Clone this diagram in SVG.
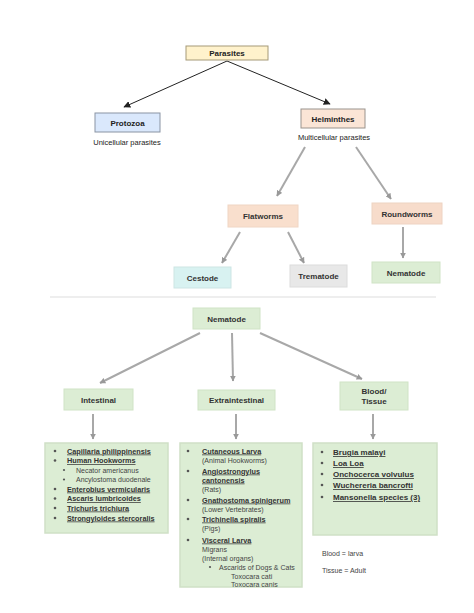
<svg xmlns="http://www.w3.org/2000/svg" width="474" height="613" viewBox="0 0 474 613">
<defs>
<style>
text{font-family:"Liberation Sans",Arial,sans-serif;fill:#222}
.t{font-size:8px;font-weight:bold;text-anchor:middle}
.s{font-size:7.5px;text-anchor:middle}
.b{font-size:8px;font-weight:bold;text-anchor:middle;fill:#333}
.l{font-size:7px;fill:#444}
.lb{font-size:7.3px;font-weight:bold;text-decoration:underline;fill:#333}
.lb2{font-size:8px;font-weight:bold;text-decoration:underline;fill:#333}
.k{stroke:#222;stroke-width:1;fill:none}
.g{stroke:#a8a8a8;stroke-width:2;fill:none}
.lst{fill:#dcedd4;stroke:#cfe0c6;stroke-width:1.5}
.bul{fill:#555}
</style>
<marker id="ab" viewBox="0 0 10 10" refX="9" refY="5" markerWidth="7" markerHeight="7" orient="auto-start-reverse" markerUnits="userSpaceOnUse"><path d="M0,0 L10,5 L0,10 z" fill="#222"/></marker>
<marker id="ag" viewBox="0 0 10 10" refX="9" refY="5" markerWidth="6" markerHeight="6" orient="auto-start-reverse" markerUnits="userSpaceOnUse"><path d="M0,0 L10,5 L0,10 z" fill="#999"/></marker>
</defs>
<rect width="474" height="613" fill="#fff"/>
<g id="connectors">
<line class="k" x1="227" y1="61" x2="124" y2="107" marker-end="url(#ab)"/>
<line class="k" x1="227" y1="61" x2="330" y2="104" marker-end="url(#ab)"/>
<line class="g" x1="305" y1="147" x2="277" y2="196" marker-end="url(#ag)"/>
<line class="g" x1="356" y1="147" x2="391" y2="199" marker-end="url(#ag)"/>
<line class="g" x1="240" y1="232" x2="222" y2="263" marker-end="url(#ag)"/>
<line class="g" x1="288" y1="232" x2="304" y2="263" marker-end="url(#ag)"/>
<line class="g" x1="403" y1="227" x2="403" y2="258" marker-end="url(#ag)"/>
<line class="g" x1="200" y1="333" x2="100" y2="383" marker-end="url(#ag)"/>
<line class="g" x1="232" y1="333" x2="233" y2="381" marker-end="url(#ag)"/>
<line class="g" x1="260" y1="333" x2="362" y2="379" marker-end="url(#ag)"/>
<line class="g" x1="93" y1="414" x2="93" y2="439" marker-end="url(#ag)"/>
<line class="g" x1="236" y1="414" x2="236" y2="439" marker-end="url(#ag)"/>
<line class="g" x1="373" y1="414" x2="373" y2="439" marker-end="url(#ag)"/>
</g>
<line x1="50" y1="297" x2="436" y2="297" stroke="#eeeeee" stroke-width="2"/>
<g id="parasites">
<rect x="186" y="46" width="82" height="14" fill="#fff2cc" stroke="#a59a78"/>
<text class="t" x="227" y="56">Parasites</text>
</g>
<g id="protozoa">
<rect x="95" y="113" width="65" height="19" fill="#dae8fc" stroke="#8a94a3"/>
<text class="t" x="127.5" y="125.5">Protozoa</text>
<text class="s" x="127" y="145">Unicellular parasites</text>
</g>
<g id="helminthes">
<rect x="301" y="109" width="64" height="19" fill="#fbe5d6" stroke="#9a938d"/>
<text class="t" x="333" y="121.5">Helminthes</text>
<text class="s" x="334" y="140">Multicellular parasites</text>
</g>
<g id="flatworms">
<rect x="228" y="205" width="70" height="22" fill="#f9dfcd" stroke="#f0d6c4"/>
<text class="b" x="263" y="219">Flatworms</text>
</g>
<g id="roundworms">
<rect x="372" y="203" width="70" height="21" fill="#f7dccb" stroke="#eed3c2"/>
<text class="b" x="407" y="216.5">Roundworms</text>
</g>
<g id="cestode">
<rect x="174" y="267" width="57" height="21" fill="#d8f2f1" stroke="#cde5e4"/>
<text class="b" x="202.5" y="280.5">Cestode</text>
</g>
<g id="trematode">
<rect x="290" y="265" width="57" height="22" fill="#e8e8e8" stroke="#dcdcdc"/>
<text class="b" x="318.5" y="279">Trematode</text>
</g>
<g id="nematode-top">
<rect x="372" y="262" width="68" height="21" fill="#dcedd4" stroke="#d0e3c6"/>
<text class="b" x="406" y="275.5">Nematode</text>
</g>
<g id="nematode">
<rect x="193" y="308" width="67" height="21" fill="#dcedd4" stroke="#d0e3c6"/>
<text class="b" x="226.5" y="321.5">Nematode</text>
</g>
<g id="intestinal">
<rect x="64" y="389" width="69" height="21" fill="#dcedd4" stroke="#d0e3c6"/>
<text class="b" x="98.5" y="402.5">Intestinal</text>
</g>
<g id="extraintestinal">
<rect x="198" y="390" width="77" height="20" fill="#dcedd4" stroke="#d0e3c6"/>
<text class="b" x="236.5" y="403">Extraintestinal</text>
</g>
<g id="bloodtissue">
<rect x="340" y="382" width="68" height="28" fill="#dcedd4" stroke="#d0e3c6"/>
<text class="b" x="374" y="394">Blood/</text>
<text class="b" x="374" y="404">Tissue</text>
</g>
<g id="intestinal-list">
<rect class="lst" x="45" y="443" width="123" height="90"/>
<g class="bul"><circle cx="55" cy="451" r="1.3"/><circle cx="55" cy="460.5" r="1.3"/><circle cx="64" cy="470" r="1.1"/><circle cx="64" cy="479.5" r="1.1"/><circle cx="55" cy="489" r="1.3"/><circle cx="55" cy="498.5" r="1.3"/><circle cx="55" cy="508" r="1.3"/><circle cx="55" cy="518" r="1.3"/></g>
<text class="lb" x="67" y="453.5">Capillaria philippinensis</text>
<text class="lb" x="67" y="463">Human Hookworms</text>
<text class="l" x="76" y="472.5">Necator americanus</text>
<text class="l" x="76" y="482">Ancylostoma duodenale</text>
<text class="lb" x="67" y="491.5">Enterobius vermicularis</text>
<text class="lb" x="67" y="501">Ascaris lumbricoides</text>
<text class="lb" x="67" y="510.5">Trichuris trichiura</text>
<text class="lb" x="67" y="520.5">Strongyloides stercoralis</text>
</g>
<g id="extraintestinal-list">
<rect class="lst" x="180" y="443" width="122" height="144"/>
<g class="bul"><circle cx="188" cy="451" r="1.3"/><circle cx="188" cy="471" r="1.3"/><circle cx="188" cy="500" r="1.3"/><circle cx="188" cy="519" r="1.3"/><circle cx="188" cy="540" r="1.3"/><circle cx="210" cy="567" r="1.1"/></g>
<text class="lb" x="202" y="453.5">Cutaneous Larva</text>
<text class="l" x="202" y="462.5">(Animal Hookworms)</text>
<text class="lb" x="202" y="473.5">Angiostrongylus</text>
<text class="lb" x="202" y="482.5">cantonensis</text>
<text class="l" x="202" y="491.5">(Rats)</text>
<text class="lb" x="202" y="502.5">Gnathostoma spinigerum</text>
<text class="l" x="202" y="511.5">(Lower Vertebrates)</text>
<text class="lb" x="202" y="521.5">Trichinella spiralis</text>
<text class="l" x="202" y="530.5">(Pigs)</text>
<text class="lb" x="202" y="542.5">Visceral Larva</text>
<text class="l" x="202" y="551.5">Migrans</text>
<text class="l" x="202" y="560.5">(Internal organs)</text>
<text class="l" x="219" y="569.5">Ascarids of Dogs &amp; Cats</text>
<text class="l" x="231" y="578.5">Toxocara cati</text>
<text class="l" x="231" y="587">Toxocara canis</text>
</g>
<g id="blood-list">
<rect class="lst" x="313" y="443" width="124" height="92"/>
<g class="bul"><circle cx="322" cy="452" r="1.3"/><circle cx="322" cy="463" r="1.3"/><circle cx="322" cy="474" r="1.3"/><circle cx="322" cy="485" r="1.3"/><circle cx="322" cy="497" r="1.3"/></g>
<text class="lb2" x="333" y="455">Brugia malayi</text>
<text class="lb2" x="333" y="466">Loa Loa</text>
<text class="lb2" x="333" y="477">Onchocerca volvulus</text>
<text class="lb2" x="333" y="488">Wuchereria bancrofti</text>
<text class="lb2" x="333" y="500">Mansonella species (3)</text>
</g>
<g id="legend">
<text class="l" x="322" y="556">Blood = larva</text>
<text class="l" x="322" y="573">Tissue = Adult</text>
</g>
</svg>
